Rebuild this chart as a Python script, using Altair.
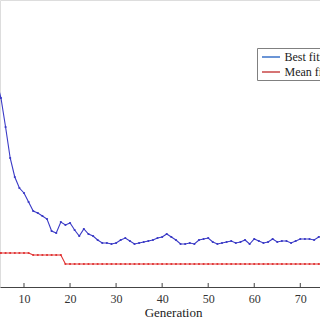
import altair as alt
import pandas as pd

generations = list(range(4, 76))
best_fitness = [2.07, 1.89, 1.60, 1.29, 1.10, 0.99, 0.94, 0.85, 0.76, 0.74,
                0.71, 0.68, 0.56, 0.54, 0.65, 0.62, 0.64, 0.57, 0.51, 0.58,
                0.53, 0.51, 0.47, 0.44, 0.44, 0.43, 0.44, 0.47, 0.49, 0.46,
                0.43, 0.44, 0.45, 0.46, 0.47, 0.49, 0.50, 0.53, 0.50, 0.47,
                0.43, 0.43, 0.44, 0.43, 0.47, 0.48, 0.49, 0.45, 0.43, 0.44,
                0.45, 0.46, 0.44, 0.45, 0.47, 0.43, 0.48, 0.46, 0.44, 0.45,
                0.48, 0.45, 0.46, 0.46, 0.44, 0.46, 0.48, 0.48, 0.48, 0.47,
                0.50, 0.51]
mean_fitness = [0.34] * 8 + [0.32] * 7 + [0.23] * 57
series_names = ["Best fitness", "Mean fitness"]
series_colors = ["#3a3ac6", "#e03232"]
legend_colors = ["#3a72c8", "#c84646"]
tick_values = [10, 20, 30, 40, 50, 60, 70]

rows = []
for g, b, m in zip(generations, best_fitness, mean_fitness):
    rows.append({"gen": g, "fit": b, "series": series_names[0]})
    rows.append({"gen": g, "fit": m, "series": series_names[1]})
df = pd.DataFrame(rows)
ticks = pd.DataFrame({"t": tick_values})

xscale = alt.Scale(domain=[4.79, 74.28], nice=False, zero=False)
yscale = alt.Scale(domain=[0, 2.87], nice=False, zero=False)

lines = alt.Chart(df).mark_line(
    clip=True, strokeWidth=1.1,
    point=alt.OverlayMarkDef(size=5, filled=True, clip=True)
).encode(
    x=alt.X("gen:Q", scale=xscale,
            axis=alt.Axis(values=tick_values, title="Generation", tickSize=0,
                          grid=False, domainColor="#444", domainWidth=1,
                          labelFont="Liberation Serif", labelFontSize=12,
                          labelColor="#333", labelPadding=6,
                          titleFont="Liberation Serif", titleFontSize=13,
                          titleFontWeight="normal", titleColor="#222",
                          titleX=173, titlePadding=2)),
    y=alt.Y("fit:Q", scale=yscale, axis=None),
    color=alt.Color("series:N",
                    scale=alt.Scale(domain=series_names, range=series_colors),
                    legend=None),
    detail="series:N",
)

tick_marks = alt.Chart(ticks).mark_rule(color="#444", strokeWidth=1).encode(
    x=alt.X("t:Q", scale=xscale),
    y=alt.value(287),
    y2=alt.value(283),
)

# legend (drawn by hand, box runs past the right edge as in the reference)
anchor = pd.DataFrame({"k": [0]})
legend_box = alt.Chart(anchor).mark_rect(
    fill="white", stroke="#808080", strokeWidth=1
).encode(x=alt.value(257.5), x2=alt.value(360), y=alt.value(48.5), y2=alt.value(80.5))

legend_layers = [legend_box]
for i, (name, col) in enumerate(zip(series_names, legend_colors)):
    yy = 57 + 15 * i
    legend_layers.append(
        alt.Chart(anchor).mark_rule(color=col, strokeWidth=1.5).encode(
            x=alt.value(262), x2=alt.value(280), y=alt.value(yy)))
    legend_layers.append(
        alt.Chart(anchor).mark_text(
            text=name, align="left", baseline="alphabetic",
            font="Liberation Serif", fontSize=12, color="#222"
        ).encode(x=alt.value(284.5), y=alt.value(yy + 4)))

chart = alt.layer(tick_marks, lines, *legend_layers).properties(
    width=320, height=287,
    autosize=alt.AutoSizeParams(type="none"),
    padding={"left": 0, "top": 0, "right": 0, "bottom": 33},
).configure_view(stroke=None).configure(background="white")

chart.save("out.html", embed_options={"renderer": "svg", "actions": False})
